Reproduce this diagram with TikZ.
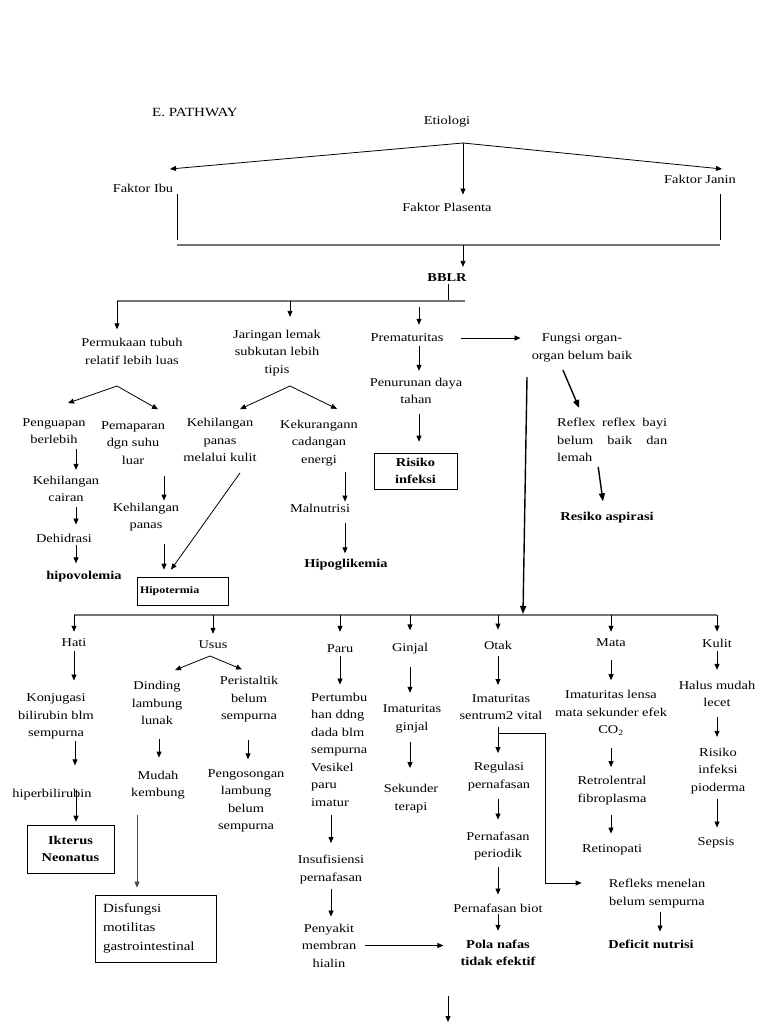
\documentclass[tikz,border=0pt]{standalone}
\usepackage{fontspec}
\setmainfont{Liberation Serif}[FakeStretch=1.2]
\usetikzlibrary{arrows.meta}
\setlength{\parindent}{0pt}
\tikzset{
	txt/.style={align=center, inner sep=2pt, font=\fontsize{12}{17.5}\selectfont},
	boldtxt/.style={txt, font=\fontsize{12}{17.5}\selectfont\bfseries},
	boxtxt/.style={boldtxt, draw, line width=0.6pt},
	arr/.style={-{Triangle[length=6pt,width=5pt]}, line width=0.8pt},
	thkarr/.style={-{Triangle[length=8pt,width=6pt]}, line width=1.4pt},
	bar/.style={draw=black!55, line width=1.1pt}
}

\begin{document}
\begin{tikzpicture}[x=1pt,y=-1pt]
	\useasboundingbox (0,0) rectangle (768,1024);
	\fill[white] (0,0) rectangle (768,1024);

	\node[txt, font=\fontsize{12.5}{15}\selectfont] at (195,112) (title) {E. PATHWAY};
	\node[txt] at (447,122) (etio) {Etiologi};
	\node[txt] at (143,188) (fibu) {Faktor Ibu};
	\node[txt] at (700,179) (fjanin) {Faktor Janin};
	\node[txt] at (447,207) (fplas) {Faktor Plasenta};
	\node[boldtxt] at (447,278) (bblr) {BBLR};

	\node[txt] at (132,351.5) (perm) {Permukaan tubuh\\relatif lebih luas};
	\node[txt] at (277,353) (jar) {Jaringan lemak\\subkutan lebih\\tipis};
	\node[txt] at (407,338) (prem) {Prematuritas};
	\node[txt] at (582,348) (fungsi) {Fungsi organ-\\organ belum baik};
	\node[txt] at (416,391) (penur) {Penurunan daya\\tahan};
	\node[boxtxt, minimum width=83pt, minimum height=36pt] at (415.5,471) (risiko) {Risiko\\infeksi};
	\node[txt, align=left, text width=110pt, anchor=west] at (555,440) (reflex) {Reflex\hfill reflex\hfill bayi\\belum\hfill baik\hfill dan\\lemah};
	\node[boldtxt] at (607,518) (aspir) {Resiko aspirasi};

	\node[txt] at (54,431) (pengu) {Penguapan\\berlebih};
	\node[txt] at (133,443) (pemap) {Pemaparan\\dgn suhu\\luar};
	\node[txt] at (66,489) (kcair) {Kehilangan\\cairan};
	\node[txt] at (64,538) (dehid) {Dehidrasi};
	\node[boldtxt] at (84,577) (hipov) {hipovolemia};
	\node[txt] at (146,517) (kpanas) {Kehilangan\\panas};
	\node[draw, line width=0.6pt, inner sep=3pt, minimum width=91pt, minimum height=28pt, text width=85pt, align=left, font=\fontsize{10}{12}\selectfont\bfseries] at (182.5,591) (hipot) {Hipotermia};
	\node[txt] at (220,440) (kkulit) {Kehilangan\\panas\\melalui kulit};
	\node[txt] at (319,443) (kurang) {Kekurangann\\cadangan\\energi};
	\node[txt] at (320,508) (maln) {Malnutrisi};
	\node[boldtxt] at (346,565) (hipog) {Hipoglikemia};

	\node[txt] at (74,643) (hati) {Hati};
	\node[txt] at (213,645) (usus) {Usus};
	\node[txt] at (340,649) (paru) {Paru};
	\node[txt] at (410,649) (ginjal) {Ginjal};
	\node[txt] at (498,645) (otak) {Otak};
	\node[txt] at (611,643) (mata) {Mata};
	\node[txt] at (717,643) (kulit) {Kulit};

	\node[txt] at (56,716.5) (konj) {Konjugasi\\bilirubin blm\\sempurna};
	\node[txt] at (52,795) (hiper) {hiperbilirubin};
	\node[boxtxt, minimum width=87pt, minimum height=48pt] at (70.5,849) (ikterus) {Ikterus\\Neonatus};
	\node[txt] at (157,703) (dind) {Dinding\\lambung\\lunak};
	\node[txt] at (249,699.5) (peris) {Peristaltik\\belum\\sempurna};
	\node[txt] at (158,785) (mudah) {Mudah\\kembung};
	\node[txt] at (246,801) (pengos) {Pengosongan\\lambung\\belum\\sempurna};
	\node[draw, line width=0.6pt, inner sep=8pt, minimum height=67pt, text width=105pt, align=left, font=\fontsize{12.5}{19}\selectfont] at (155.5,928.5) (disf) {Disfungsi\\motilitas\\gastrointestinal};
	\node[txt, align=left, anchor=west] at (309,749.5) (pertum) {Pertumbu\\han ddng\\dada blm\\sempurna\\Vesikel\\paru\\imatur};
	\node[txt] at (331,869.5) (insuf) {Insufisiensi\\pernafasan};
	\node[txt] at (329,945.5) (penyak) {Penyakit\\membran\\hialin};
	\node[txt] at (412,719) (imgin) {Imaturitas\\ginjal};
	\node[txt] at (411,798.5) (sekund) {Sekunder\\terapi};
	\node[txt] at (501,707) (imsen) {Imaturitas\\sentrum2 vital};
	\node[txt] at (499,776.5) (regul) {Regulasi\\pernafasan};
	\node[txt] at (498,846) (periodik) {Pernafasan\\periodik};
	\node[txt] at (498,908) (biot) {Pernafasan biot};
	\node[boldtxt] at (498,953) (pola) {Pola nafas\\tidak efektif};
	\node[txt] at (657,893.5) (refmen) {Refleks menelan\\belum sempurna};
	\node[boldtxt] at (651,944) (defnut) {Deficit nutrisi};
	\node[txt] at (611,713) (imlensa) {Imaturitas lensa\\mata sekunder efek\\CO\textsubscript{2}};
	\node[txt] at (612,790.5) (retro) {Retrolentral\\fibroplasma};
	\node[txt] at (612,850) (retino) {Retinopati};
	\node[txt] at (717,694) (halus) {Halus mudah\\lecet};
	\node[txt] at (718,771) (rispio) {Risiko\\infeksi\\pioderma};
	\node[txt] at (716,843) (sepsis) {Sepsis};

	\coordinate (apex) at (463,143);
	\coordinate (ibuend) at (170,169);
	\coordinate (janinend) at (722,169);
	\coordinate (lbar) at (177,245);
	\coordinate (rbar) at (720,245);
	\coordinate (b1) at (117,301);
	\coordinate (b2) at (465,301);
	\coordinate (bj) at (290,301);
	\coordinate (bp) at (419,301);
	\coordinate (btick) at (448,301);
	\coordinate (papex) at (117,386);
	\coordinate (japex) at (290,386);
	\coordinate (o0) at (74,615);
	\coordinate (o1) at (717,615);
	\coordinate (olong) at (523,614);
	\coordinate (uapex) at (210,656);
	\coordinate (oj) at (498,733);
	\coordinate (ocorner) at (545,883);
	\coordinate (final) at (448,1022);

	\draw[arr] (apex) -- (ibuend);
	\draw[arr] (apex) -- (janinend);
	\draw[arr, shorten >=6pt] (apex) -- (apex |- fplas.north);
	\draw (fibu.south -| lbar) -- ([yshift=5pt]lbar);
	\draw[shorten <=9pt] (fjanin.south -| rbar) -- ([yshift=5pt]rbar);
	\draw[bar] (lbar) -- (rbar);
	\draw[arr, shorten >=5pt] (lbar -| apex) -- (apex |- bblr.north);
	\draw (bblr.south -| btick) -- (btick);
	\draw[bar] (b1) -- (b2);
	\draw[arr, shorten >=7pt] (b1) -- (b1 |- perm.north);
	\draw[arr, shorten >=11pt] (bj) -- (bj |- jar.north);
	\draw[arr, shorten <=6pt, shorten >=7pt] (bp) -- (bp |- prem.north);

	\draw[arr, shorten <=15pt, shorten >=9pt] (prem.east) -- (prem.east -| fungsi.west);
	\draw[arr, shorten <=2pt, shorten >=5pt] ([xshift=12pt]prem.south) -- ([xshift=3pt]penur.north);
	\draw[arr, shorten <=8pt, shorten >=11pt] ([xshift=3pt]penur.south) -- ([xshift=3.5pt]risiko.north);
	\draw[thkarr] ([xshift=-19pt,yshift=-6pt]fungsi.south) -- ([xshift=-33pt,yshift=8pt]reflex.north);
	\draw[thkarr] ([xshift=-14pt,yshift=-3pt]reflex.south) -- ([xshift=-4pt,yshift=9pt]aspir.north);
	\draw[thkarr] ([xshift=-55pt,yshift=-13pt]fungsi.south) -- (olong);

	\draw[arr] (papex) -- ([xshift=14pt,yshift=13pt]pengu.north);
	\draw[arr] (papex) -- ([xshift=25pt,yshift=10pt]pemap.north);
	\draw[arr, shorten <=3pt, shorten >=4pt] ([xshift=22pt]pengu.south) -- ([xshift=10pt]kcair.north);
	\draw[arr, shorten <=3pt, shorten >=7pt] ([xshift=10pt]kcair.south) -- ([xshift=12pt]dehid.north);
	\draw[arr, shorten <=1pt, shorten >=6pt] ([xshift=12pt]dehid.south) -- ([xshift=-8pt]hipov.north);
	\draw[arr, shorten <=9pt] ([xshift=31pt]pemap.south) -- ([xshift=18pt]kpanas.north);
	\draw[arr, shorten <=11pt, shorten >=7pt] ([xshift=18pt]kpanas.south) -- ([xshift=-18.5pt]hipot.north);
	\draw[arr] ([xshift=20pt,yshift=-9pt]kkulit.south) -- ([xshift=-11.5pt,yshift=7pt]hipot.north);

	\draw[arr] (japex) -- ([xshift=20pt,yshift=7pt]kkulit.north);
	\draw[arr] (japex) -- ([xshift=18pt,yshift=9pt]kurang.north);
	\draw[arr, shorten <=4pt] ([xshift=26pt]kurang.south) -- ([xshift=25pt]maln.north);
	\draw[arr, shorten <=9pt, shorten >=4pt] ([xshift=25pt]maln.south) -- ([xshift=-1pt]hipog.north);

	\draw[bar] (o0) -- (o1);
	\draw[arr, shorten >=5pt] (o0) -- (hati.north);
	\draw[arr, shorten >=5pt] (o0 -| usus) -- (usus.north);
	\draw[arr, shorten >=11pt] (o0 -| paru) -- (paru.north);
	\draw[arr, shorten >=11pt] (o0 -| ginjal) -- (ginjal.north);
	\draw[arr, shorten >=9pt] (o0 -| otak) -- (otak.north);
	\draw[arr, shorten >=5pt] (o0 -| mata) -- (mata.north);
	\draw[arr, shorten >=5pt] (o1) -- (o1 |- kulit.north);

	\draw[arr, shorten <=2pt, shorten >=11pt] (hati.south) -- ([xshift=18pt]konj.north);
	\draw[arr, shorten >=22pt] ([xshift=19pt]konj.south) -- ([xshift=23pt]hiper.north);
	\draw[arr, shorten >=3pt] ([xshift=24pt,yshift=5pt]hiper.center) -- ([xshift=5.5pt]ikterus.north);

	\draw[arr] (uapex) -- ([xshift=18pt,yshift=9pt]dind.north);
	\draw[arr] (uapex) -- ([xshift=-7pt,yshift=5pt]peris.north);
	\draw[arr, shorten <=12pt, shorten >=11pt] ([xshift=2pt]dind.south) -- ([xshift=1pt]mudah.north);
	\draw[arr, shorten <=15pt, shorten >=8pt] ([xshift=-1pt]peris.south) -- ([xshift=2pt]pengos.north);
	\draw[arr, draw=black!70, shorten <=14pt, shorten >=7pt] ([xshift=-21pt]mudah.south) -- ([xshift=-18.5pt]disf.north);

	\draw[arr, shorten <=1pt, shorten >=6pt] (paru.south) -- (paru.south |- pertum.north);
	\draw[arr, shorten <=7pt, shorten >=10pt] (pertum.south -| insuf) -- (insuf.north);
	\draw[arr, shorten <=3pt, shorten >=5pt] (insuf.south) -- (insuf.south |- penyak.north);
	\draw[arr, shorten <=7pt, shorten >=15pt] (penyak.east) -- (penyak.east -| pola.west);

	\draw[arr, shorten <=10pt, shorten >=10pt] (ginjal.south) -- (ginjal.south |- imgin.north);
	\draw[arr, shorten <=7pt, shorten >=14pt] (imgin.south -| ginjal) -- (sekund.north -| ginjal);

	\draw[arr, shorten <=5pt, shorten >=7pt] (otak.south) -- (otak.south |- imsen.north);
	\draw[arr, shorten <=5pt, shorten >=7pt] (imsen.south -| otak) -- (regul.north -| otak);
	\draw[arr, shorten >=25pt] (oj) -- (oj -| ocorner) -- (ocorner) -- (ocorner -| refmen.west);
	\draw[arr, shorten <=6pt, shorten >=10pt] (regul.south -| otak) -- (periodik.north -| otak);
	\draw[arr, shorten <=5pt, shorten >=7pt] (periodik.south) -- (biot.north);
	\draw[arr, shorten >=7pt] (biot.south) -- (pola.north);
	\draw[arr] ([xshift=-50pt,yshift=-28pt]pola.south) -- (final);

	\draw[arr, shorten <=11pt, shorten >=8pt] (mata.south) -- (imlensa.north);
	\draw[arr, shorten <=10pt, shorten >=7pt] (imlensa.south -| mata) -- (retro.north -| mata);
	\draw[arr, shorten <=8pt, shorten >=9pt] (retro.south -| mata) -- (retino.north -| mata);

	\draw[arr, shorten <=2pt, shorten >=9pt] (kulit.south -| o1) -- (halus.north -| o1);
	\draw[arr, shorten <=8pt, shorten >=9pt] (halus.south -| o1) -- (rispio.north -| o1);
	\draw[arr, shorten <=3pt, shorten >=8pt] (rispio.south -| o1) -- (sepsis.north -| o1);

	\draw[arr, shorten <=2pt, shorten >=6pt] ([xshift=3pt]refmen.south) -- ([xshift=9pt]defnut.north);
\end{tikzpicture}
\end{document}
